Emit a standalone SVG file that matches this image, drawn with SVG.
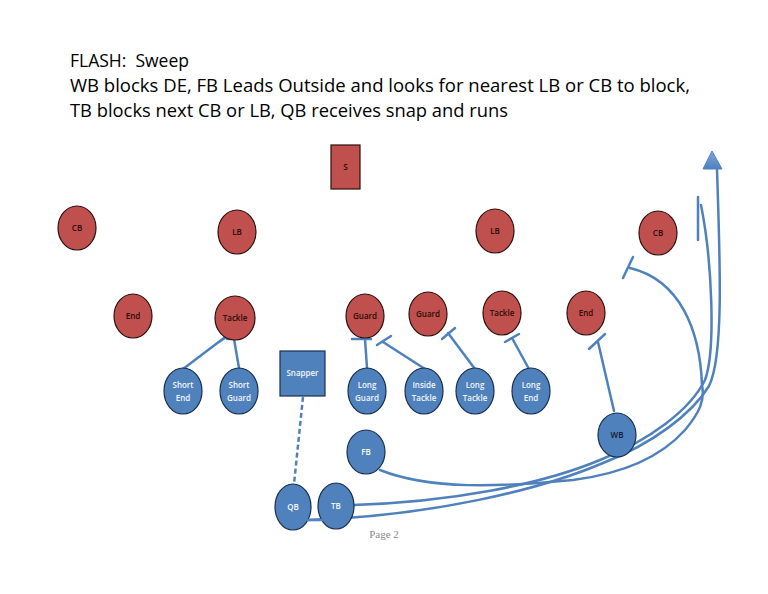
<svg xmlns="http://www.w3.org/2000/svg" width="768" height="594" viewBox="0 0 768 594">
<defs>
<style>
.title{font-family:"Open Sans","Liberation Sans",sans-serif;font-size:17.5px;fill:#000}
.red{fill:#c0504d;stroke:#2a1010;stroke-width:1.2}
.blue{fill:#4f81bd;stroke:#1a2f4f;stroke-width:1.2}
.rl{font-family:"Open Sans","Liberation Sans",sans-serif;font-size:8px;font-weight:600;fill:#2a0a0a;text-anchor:middle}
.bl{font-family:"Open Sans","Liberation Sans",sans-serif;font-size:8px;font-weight:600;fill:#f4f6fb;text-anchor:middle}
.bd{font-family:"Open Sans","Liberation Sans",sans-serif;font-size:8px;font-weight:600;fill:#0f1b33;text-anchor:middle}
.ln{fill:none;stroke:#4f81bd;stroke-width:2.5;stroke-linecap:round}
.dash{fill:none;stroke:#4f81bd;stroke-width:2.5;stroke-dasharray:5,3}
</style>
<linearGradient id="ag" x1="0" y1="0" x2="0" y2="1">
<stop offset="0" stop-color="#7fa6d8"/><stop offset="1" stop-color="#4f81bd"/>
</linearGradient>
</defs>
<rect width="768" height="594" fill="#fff"/>
<text class="title" x="70" y="67">FLASH:&#160; Sweep</text>
<text class="title" x="70" y="92" textLength="620" lengthAdjust="spacingAndGlyphs">WB blocks DE, FB Leads Outside and looks for nearest LB or CB to block,</text>
<text class="title" x="70" y="117" textLength="438" lengthAdjust="spacingAndGlyphs">TB blocks next CB or LB, QB receives snap and runs</text>

<g id="connectors">
<path class="dash" d="M303,397 L294,484"/>
<path class="ln" d="M183,369 L224,338 M216,344 L232,333"/>
<path class="ln" d="M239,368 L234,339 M227,339 L242,338"/>
<path class="ln" d="M367,368 L365,339 M352,339 L371,339"/>
<path class="ln" d="M425,369 L383,342 M377,345 L391,336"/>
<path class="ln" d="M475,369 L448,333 M442,339 L455,328"/>
<path class="ln" d="M529,369 L512,338 M505,342 L519,334"/>
<path class="ln" d="M614,411 L598,342 M589,349 L605,334"/>
<path class="ln" d="M380,470 C430,490 500,487 573,480 C620,474 660,458 685,430 C700,412 705,400 702,385 C700,330 680,280 630,268"/>
<path class="ln" d="M623,278 L633,257"/>
<path class="ln" d="M353,505 C450,502 540,485 600,460 C650,440 690,410 705,380 C716,350 712,260 701,205"/>
<path class="ln" d="M698,197 L698,240"/>
<path class="ln" d="M308,520 C430,516 540,490 603,463 C652,444 692,414 709,386 C724,356 720,260 717,170"/>
<polygon points="712,151 703,169 722,169" fill="url(#ag)" stroke="#4f81bd" stroke-width="1"/>
</g>

<g id="S"><rect class="red" x="331" y="145" width="29" height="44"/><text class="rl" x="345.5" y="170">S</text></g>
<g id="CB-left"><ellipse class="red" cx="77" cy="228" rx="19" ry="22"/><text class="rl" x="77" y="231">CB</text></g>
<g id="LB-left"><ellipse class="red" cx="237" cy="232" rx="19" ry="22"/><text class="rl" x="237" y="235">LB</text></g>
<g id="LB-right"><ellipse class="red" cx="495" cy="231" rx="19" ry="22"/><text class="rl" x="495" y="234">LB</text></g>
<g id="CB-right"><ellipse class="red" cx="658" cy="233" rx="19" ry="22"/><text class="rl" x="658" y="236">CB</text></g>
<g id="End-left"><ellipse class="red" cx="133" cy="316" rx="19" ry="22"/><text class="rl" x="133" y="319">End</text></g>
<g id="Tackle-left"><ellipse class="red" cx="235" cy="318" rx="20" ry="22"/><text class="rl" x="235" y="321">Tackle</text></g>
<g id="Guard-1"><ellipse class="red" cx="365" cy="316" rx="19" ry="22"/><text class="rl" x="365" y="319">Guard</text></g>
<g id="Guard-2"><ellipse class="red" cx="428" cy="314" rx="19" ry="22"/><text class="rl" x="428" y="317">Guard</text></g>
<g id="Tackle-right"><ellipse class="red" cx="502" cy="313" rx="19" ry="22"/><text class="rl" x="502" y="316">Tackle</text></g>
<g id="End-right"><ellipse class="red" cx="586" cy="313" rx="19" ry="22"/><text class="rl" x="586" y="316">End</text></g>

<g id="Short-End"><ellipse class="blue" cx="183" cy="391" rx="19" ry="23"/><text class="bl" x="183" y="388">Short</text><text class="bl" x="183" y="401">End</text></g>
<g id="Short-Guard"><ellipse class="blue" cx="239" cy="391" rx="19" ry="23"/><text class="bl" x="239" y="388">Short</text><text class="bl" x="239" y="401">Guard</text></g>
<g id="Snapper"><rect class="blue" x="280" y="351" width="45" height="45"/><text class="bl" x="302.5" y="376">Snapper</text></g>
<g id="Long-Guard"><ellipse class="blue" cx="367" cy="391" rx="19" ry="23"/><text class="bl" x="367" y="388">Long</text><text class="bl" x="367" y="401">Guard</text></g>
<g id="Inside-Tackle"><ellipse class="blue" cx="424" cy="391" rx="19" ry="23"/><text class="bl" x="424" y="388">Inside</text><text class="bl" x="424" y="401">Tackle</text></g>
<g id="Long-Tackle"><ellipse class="blue" cx="475" cy="391" rx="19" ry="23"/><text class="bl" x="475" y="388">Long</text><text class="bl" x="475" y="401">Tackle</text></g>
<g id="Long-End"><ellipse class="blue" cx="531" cy="391" rx="19" ry="23"/><text class="bl" x="531" y="388">Long</text><text class="bl" x="531" y="401">End</text></g>
<g id="FB"><ellipse class="blue" cx="366" cy="452" rx="19" ry="22"/><text class="bl" x="366" y="455">FB</text></g>
<g id="WB"><ellipse class="blue" cx="617" cy="435" rx="19" ry="22"/><text class="bd" x="617" y="438">WB</text></g>
<g id="QB"><ellipse class="blue" cx="293" cy="507" rx="18" ry="23"/><text class="bl" x="293" y="510">QB</text></g>
<g id="TB"><ellipse class="blue" cx="336" cy="506" rx="18" ry="23"/><text class="bl" x="336" y="509">TB</text></g>
<path class="ln" d="M308,520 C320,520 330,520 345,519"/>

<text x="384" y="538" text-anchor="middle" style="font-family:'Liberation Serif',serif;font-size:11px;fill:#8a8a8a">Page 2</text>
</svg>
